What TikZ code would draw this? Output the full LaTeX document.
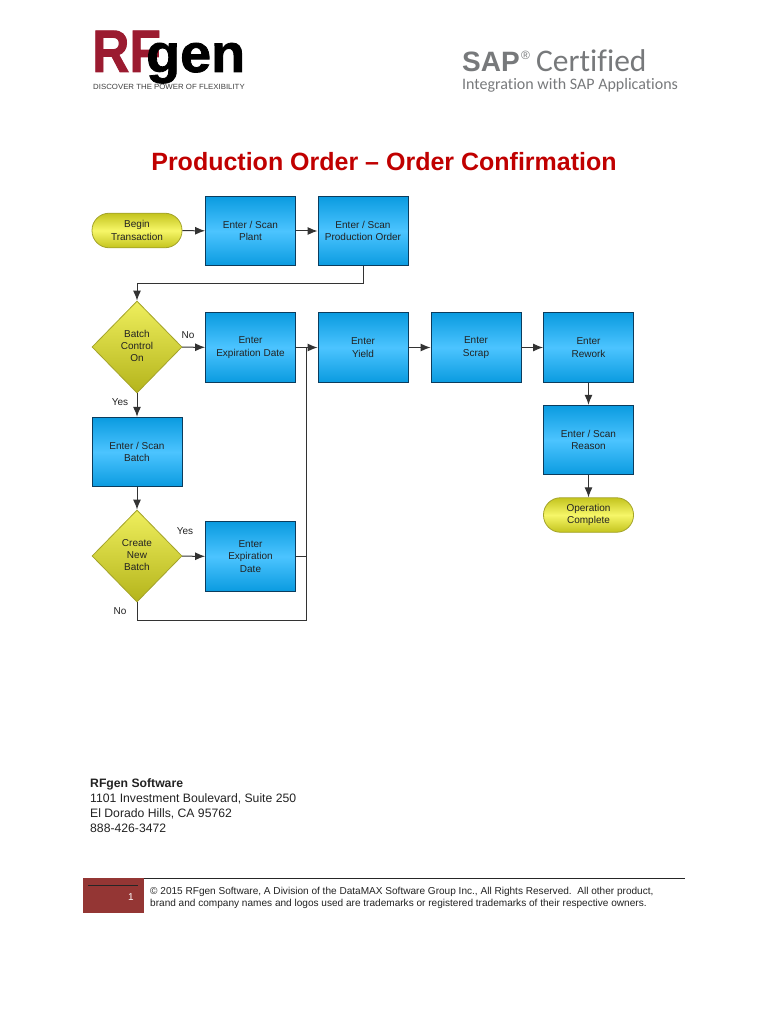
\documentclass[tikz,border=0pt]{standalone}
\usepackage{fontspec}
\setmainfont{Liberation Sans}
\newfontfamily\sapfont[Ligatures=NoCommon]{Carlito}
\newfontfamily\logofont[FakeBold=1.5]{Liberation Sans Bold}
\usetikzlibrary{shapes.geometric,arrows.meta}
\definecolor{boxline}{HTML}{0B3C5D}
\definecolor{boxedge}{HTML}{0A9BE0}
\definecolor{boxmid}{HTML}{4CC4FF}
\definecolor{yeledge}{HTML}{C4C41E}
\definecolor{yelmid}{HTML}{F6F668}
\definecolor{yelline}{HTML}{A3A32A}
\definecolor{rfred}{HTML}{9B1B30}
\definecolor{titlered}{HTML}{C00000}
\definecolor{footred}{HTML}{943634}
\definecolor{sapgrey}{HTML}{77797B}
\definecolor{inktext}{HTML}{222222}
\newcommand{\decstack}[1]{\raisebox{1.5pt}{\begin{tabular}{@{}c@{}}#1\end{tabular}}}
\tikzset{
  labeltext/.style={font=\fontsize{10}{12.4}\selectfont,text=inktext,align=center},
  procbox/.style={labeltext,draw=boxline,line width=0.9pt,minimum width=90pt,minimum height=69.5pt,inner sep=0pt,
    top color=boxedge,bottom color=boxedge,middle color=boxmid},
  termbox/.style={labeltext,draw=yelline,line width=0.8pt,rounded corners=17pt,minimum width=90pt,minimum height=34.5pt,inner sep=0pt,
    top color=yeledge,bottom color=yeledge,middle color=yelmid},
  decbox/.style={labeltext,diamond,draw=yelline,line width=0.8pt,minimum width=90pt,minimum height=92pt,inner sep=0pt,
    shading=axis,top color=yelmid!85!yeledge,bottom color=yeledge!92!black},
  flow/.style={draw=black!80,line width=1pt,-{Latex[length=10pt,width=8pt]}},
  plainflow/.style={draw=black!80,line width=1pt},
  edgetext/.style={font=\fontsize{10}{12}\selectfont,text=inktext,inner sep=0pt},
  addrtext/.style={font=\fontsize{12.2}{15.2}\selectfont,text=inktext,align=left,inner sep=0pt,anchor=north west},
}
\begin{document}
\begin{tikzpicture}[x=1pt,y=-1pt]
  \useasboundingbox (0,0) rectangle (768,1024);

  \node[inner sep=0pt,anchor=base west,text=rfred] (logorf) at (92,72)
    {\scalebox{0.86}[1]{\logofont\fontsize{60}{60}\selectfont RF}};
  \node[inner sep=0pt,anchor=base west] (logogen) at (146,72)
    {\scalebox{1.03}[1]{\logofont\fontsize{54}{54}\selectfont gen}};
  \node[inner sep=0pt,anchor=base west,font=\fontsize{7.5}{8}\selectfont,text=black!75] (logotag) at (93,90)
    {\scalebox{1.045}[1]{DISCOVER THE POWER OF FLEXIBILITY}};
  \node[inner sep=0pt,anchor=base west,text=sapgrey] (sapname) at (462,72)
    {\fontsize{28}{28}\selectfont\bfseries SAP};
  \node[inner sep=0pt,anchor=base west,text=sapgrey] (sapmark) at (521,60)
    {\fontsize{12}{12}\selectfont ®};
  \node[inner sep=0pt,anchor=base west,text=sapgrey] (sapcert) at (536,72)
    {\sapfont\fontsize{31.5}{32}\selectfont Certified};
  \node[inner sep=0pt,anchor=base west,text=sapgrey] (sapint) at (462,90)
    {\sapfont\fontsize{16}{17}\selectfont Integration with SAP Applications};

  \node[inner sep=0pt,text=titlered,font=\fontsize{25}{30}\selectfont\bfseries] (title) at (384,162)
    {Production Order – Order Confirmation};

  \node[termbox] (begintx) at (137,230.5) {Begin\\Transaction};
  \node[procbox] (plant) at (250.5,231) {Enter / Scan\\Plant};
  \node[procbox] (prodorder) at (363,231) {Enter / Scan\\Production Order};
  \node[decbox] (batchctl) at (137,347) {\decstack{Batch\\Control\\On}};
  \node[procbox] (expdate) at (250.5,347.5) {Enter\\Expiration Date};
  \node[procbox] (yield) at (363,347.5) {Enter\\Yield};
  \node[procbox] (scrap) at (476,347.5) {Enter\\Scrap};
  \node[procbox] (rework) at (588.5,347.5) {Enter\\Rework};
  \node[procbox] (reason) at (588.5,440) {Enter / Scan\\Reason};
  \node[termbox] (opdone) at (588.5,515) {Operation\\Complete};
  \node[procbox] (batchin) at (137,452) {Enter / Scan\\Batch};
  \node[decbox] (newbatch) at (137,556) {\decstack{Create\\New\\Batch}};
  \node[procbox] (expdatetwo) at (250.5,556.5) {Enter\\Expiration\\Date};

  \coordinate (upper) at (363,283);
  \coordinate (lower) at (306,620);
  \coordinate (merge) at (306,347.5);
  \coordinate (joint) at (306,556.5);

  \foreach \from/\to in {begintx/plant,plant/prodorder,batchctl/expdate,expdate/yield,yield/scrap,scrap/rework,
    rework/reason,reason/opdone,batchctl/batchin,batchin/newbatch,newbatch/expdatetwo}
    \draw[flow] (\from) -- (\to);
  \draw[flow] (prodorder.south) |- (upper) -| (batchctl.north);
  \draw[plainflow] (newbatch.south) |- (lower) -- (merge);
  \draw[plainflow] (expdatetwo.east) -- (joint);

  \node[edgetext] (lblno) at (188,335) {No};
  \node[edgetext] (lblyes) at (120,402) {Yes};
  \node[edgetext] (lblyestwo) at (185,531) {Yes};
  \node[edgetext] (lblnotwo) at (120,611) {No};

  \node[addrtext] (addr) at (90,778)
    {\textbf{RFgen Software}\\1101 Investment Boulevard, Suite 250\\El Dorado Hills, CA 95762\\888-426-3472};

  \fill[footred] (83,878) rectangle (144,913);
  \draw[black!85,line width=0.8pt] (88,885) -- (138,885);
  \draw[black!85,line width=0.9pt] (144,878) -- (685,878);
  \node[inner sep=0pt,text=white,font=\fontsize{10}{12}\selectfont] (pagenum) at (131,897) {1};
  \node[inner sep=0pt,anchor=north west,align=left,text=inktext,font=\fontsize{10.07}{12}\selectfont] (legal) at (150,886.5)
    {© 2015 RFgen Software, A Division of the DataMAX Software Group Inc., All Rights Reserved.\ \ All other product,\\brand and company names and logos used are trademarks or registered trademarks of their respective owners.};
\end{tikzpicture}
\end{document}
